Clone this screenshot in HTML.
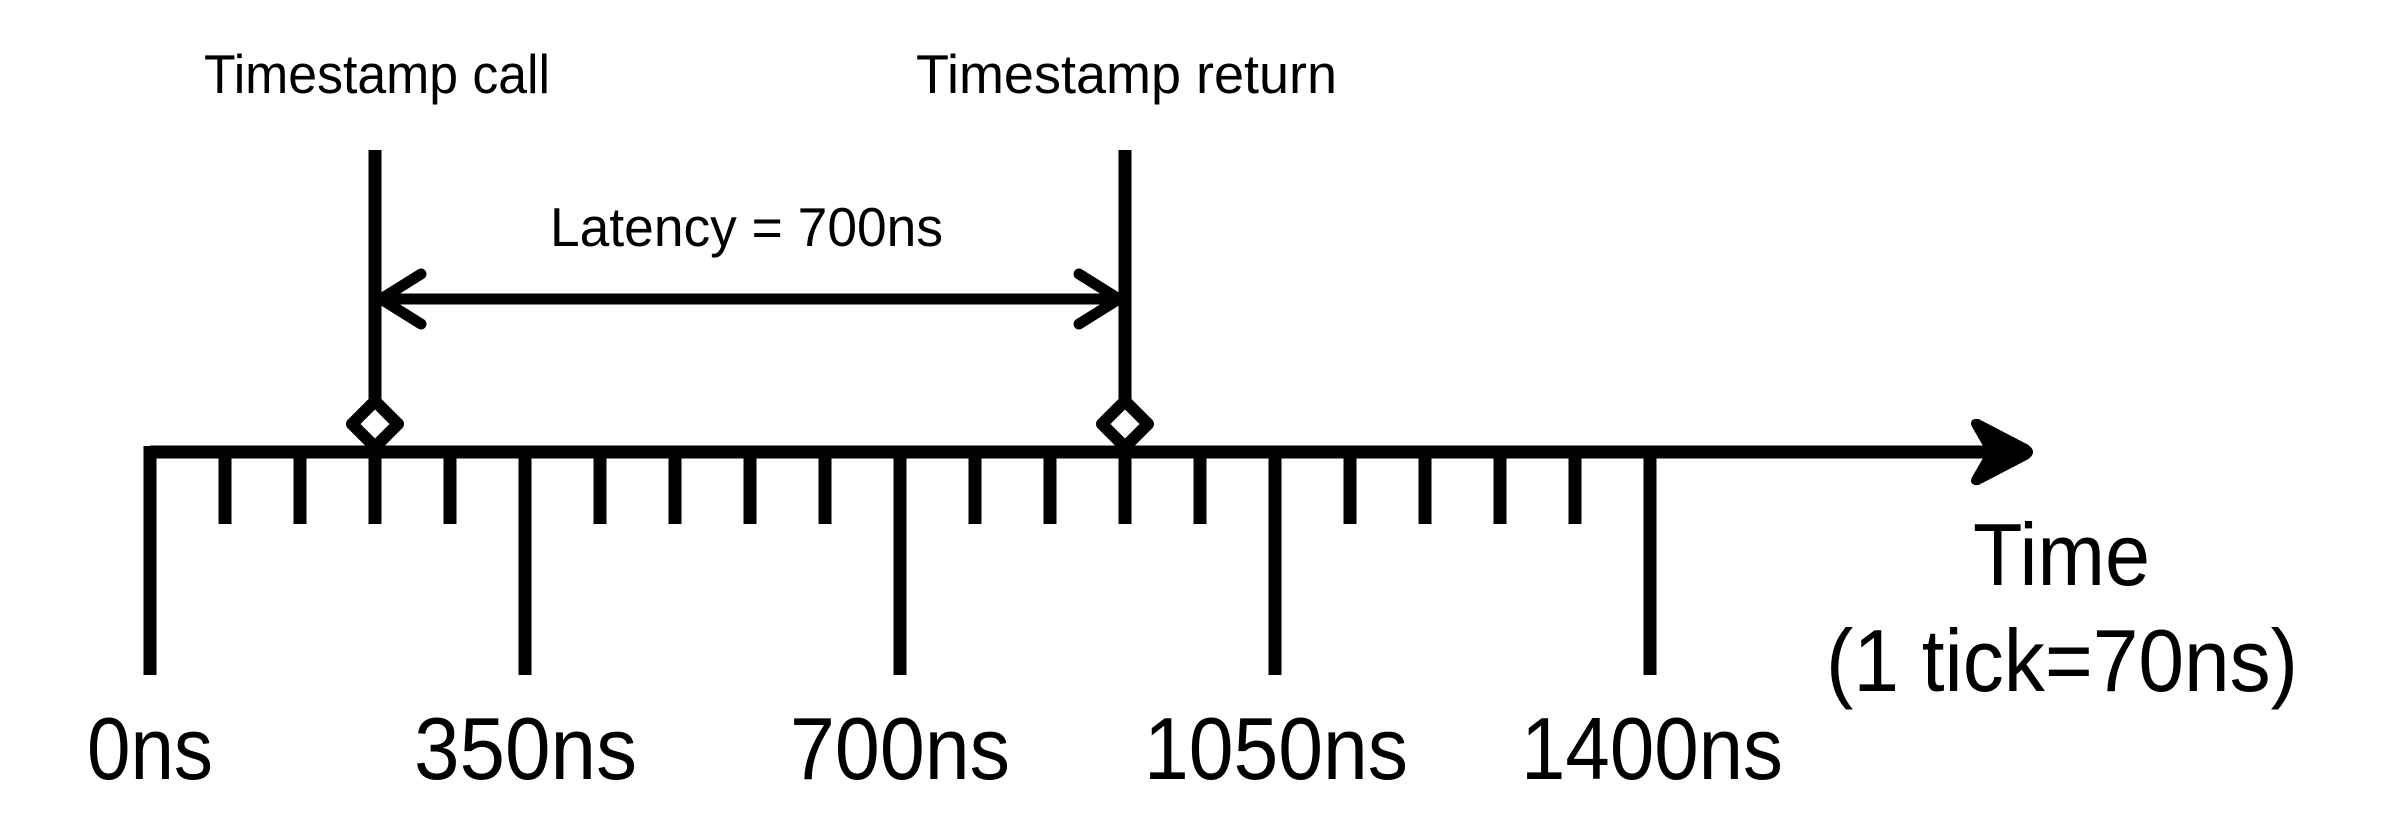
<!DOCTYPE html>
<html><head><meta charset="utf-8"><style>html,body{margin:0;padding:0;background:#fff}svg{display:block}</style></head>
<body>
<svg width="2400" height="825" viewBox="0 0 2400 825" xmlns="http://www.w3.org/2000/svg" font-family="Liberation Sans, Arial, sans-serif" fill="#000">
<g stroke="#000" stroke-width="13" fill="none">
  <line x1="150" y1="452" x2="2000" y2="452"/>
  <line x1="150" y1="446" x2="150" y2="675"/>
  <line x1="525" y1="452" x2="525" y2="675"/>
  <line x1="900" y1="452" x2="900" y2="675"/>
  <line x1="1275" y1="452" x2="1275" y2="675"/>
  <line x1="1650" y1="452" x2="1650" y2="675"/>
  <path d="M225 452V524M300 452V524M375 452V524M450 452V524M600 452V524M675 452V524M750 452V524M825 452V524M975 452V524M1050 452V524M1125 452V524M1200 452V524M1350 452V524M1425 452V524M1500 452V524M1575 452V524"/>
  <line x1="375" y1="150" x2="375" y2="400"/>
  <line x1="1125" y1="150" x2="1125" y2="400"/>
  <path d="M375 401 L398 424 L375 447 L352 424 Z" stroke-width="12" stroke-linejoin="round"/>
  <path d="M1125 401 L1148 424 L1125 447 L1102 424 Z" stroke-width="12" stroke-linejoin="round"/>
  <line x1="380" y1="299" x2="1120" y2="299" stroke-width="11"/>
  <path d="M421 274 L381 299 L421 324" stroke-width="11" stroke-linecap="round" stroke-linejoin="round"/>
  <path d="M1079 274 L1119 299 L1079 324" stroke-width="11" stroke-linecap="round" stroke-linejoin="round"/>
</g>
<path d="M1975 426 Q1972 421 1978 422 L2026 447 Q2034 452 2026 457 L1978 482 Q1972 483 1975 478 L1990 452 Z" stroke="#000" stroke-width="6" stroke-linejoin="round"/>
<g font-size="55">
  <text x="204" y="93" textLength="346" lengthAdjust="spacingAndGlyphs">Timestamp call</text>
  <text x="916" y="93" textLength="421" lengthAdjust="spacingAndGlyphs">Timestamp return</text>
  <text x="550" y="246" textLength="393" lengthAdjust="spacingAndGlyphs">Latency = 700ns</text>
</g>
<g font-size="88">
  <text x="87" y="779" textLength="126" lengthAdjust="spacingAndGlyphs">0ns</text>
  <text x="414" y="779" textLength="223" lengthAdjust="spacingAndGlyphs">350ns</text>
  <text x="790" y="779" textLength="220" lengthAdjust="spacingAndGlyphs">700ns</text>
  <text x="1144" y="779" textLength="264" lengthAdjust="spacingAndGlyphs">1050ns</text>
  <text x="1521" y="779" textLength="262" lengthAdjust="spacingAndGlyphs">1400ns</text>
  <text x="1973" y="585" textLength="177" lengthAdjust="spacingAndGlyphs">Time</text>
  <text x="1826" y="691" textLength="472" lengthAdjust="spacingAndGlyphs">(1 tick=70ns)</text>
</g>
</svg>
</body></html>
